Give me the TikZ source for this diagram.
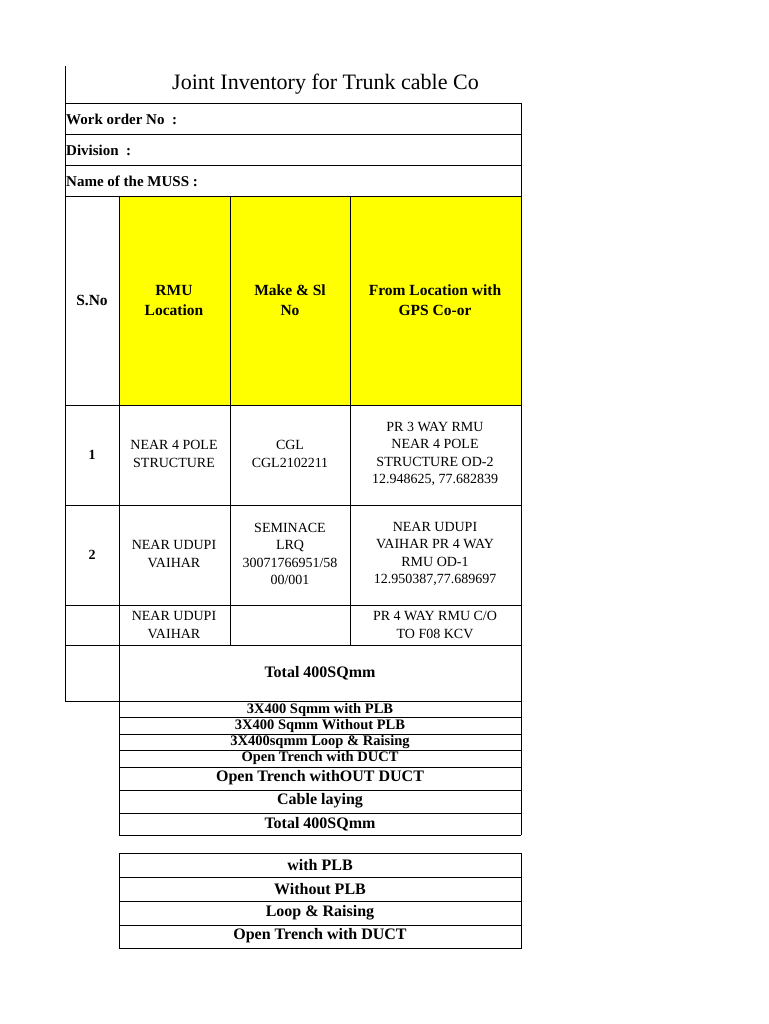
\documentclass[tikz,border=0pt]{standalone}
\usepackage{fontspec}
\setmainfont{Liberation Serif}
\definecolor{yel}{RGB}{255,255,0}
\begin{document}
\begin{tikzpicture}[x=1pt,y=-1pt,
  ln/.style={draw=black,line width=0.8pt},
  cell/.style={align=center,font=\fontsize{14}{17.5}\selectfont,inner sep=0pt},
  hd/.style={align=center,font=\bfseries\fontsize{15.5}{20}\selectfont,inner sep=0pt},
  lb/.style={anchor=west,font=\bfseries\fontsize{15}{18}\selectfont,inner sep=0pt},
  sm/.style={font=\bfseries\fontsize{14.5}{16}\selectfont,inner sep=0pt},
  bg/.style={font=\bfseries\fontsize{16}{18}\selectfont,inner sep=0pt}]
\useasboundingbox[fill=white] (0,0) rectangle (768,1024);
\fill[yel] (119,196) rectangle (521,405);
% grid
\draw[ln] (65,66) -- (65,701);
\foreach \y in {103,134,165,196,405,505,605,645,701} \draw[ln] (65,\y) -- (521,\y);
\draw[ln] (521,103) -- (521,835);
\draw[ln] (119,196) -- (119,835);
\foreach \x in {230,350} \draw[ln] (\x,196) -- (\x,645);
\foreach \y in {717,734,750,767,790,813,835} \draw[ln] (119,\y) -- (521,\y);
\draw[ln] (119,853) rectangle (521,948);
\foreach \y in {877,901,925} \draw[ln] (119,\y) -- (521,\y);
% texts
\node[anchor=west,font=\fontsize{22}{26}\selectfont,inner sep=0pt] (t) at (172,84) {Joint Inventory for Trunk cable Co};
\node[lb] (w) at (66,119) {Work order No~~:};
\node[lb] (d) at (66,150) {Division~~:};
\node[lb] (m) at (66,181) {Name of the MUSS :};
\node[hd] (h1) at (92,300) {S.No};
\node[hd] (h2) at (174,300) {RMU\\Location};
\node[hd] (h3) at (290,300) {Make \& Sl\\No};
\node[hd] (h4) at (435,300) {From Location with\\GPS Co-or};
\node[cell,font=\bfseries\fontsize{14}{17}\selectfont] (r1) at (92,455) {1};
\node[cell] (r1b) at (174,454) {NEAR 4 POLE\\STRUCTURE};
\node[cell] (r1c) at (290,454) {CGL\\CGL2102211};
\node[cell] (r1d) at (435,454) {PR 3 WAY RMU\\NEAR 4 POLE\\STRUCTURE OD-2\\12.948625, 77.682839};
\node[cell,font=\bfseries\fontsize{14}{17}\selectfont] (r2) at (92,555) {2};
\node[cell] (r2b) at (174,554) {NEAR UDUPI\\VAIHAR};
\node[cell] (r2c) at (290,554) {SEMINACE\\LRQ\\30071766951/58\\00/001};
\node[cell] (r2d) at (435,554) {NEAR UDUPI\\VAIHAR PR 4 WAY\\RMU OD-1\\12.950387,77.689697};
\node[cell] (r3b) at (174,625) {NEAR UDUPI\\VAIHAR};
\node[cell] (r3d) at (435,625) {PR 4 WAY RMU C/O\\TO F08 KCV};
\node[bg] (tot) at (320,673) {Total 400SQmm};
\node[sm] (s1) at (320,710) {3X400 Sqmm with PLB};
\node[sm] (s2) at (320,726) {3X400 Sqmm Without PLB};
\node[sm] (s3) at (320,742) {3X400sqmm Loop \& Raising};
\node[sm] (s4) at (320,758) {Open Trench with DUCT};
\node[bg] (s5) at (320,778) {Open Trench withOUT DUCT};
\node[bg] (s6) at (320,801) {Cable laying};
\node[bg] (s7) at (320,824) {Total 400SQmm};
\node[bg] (b1) at (320,865) {with PLB};
\node[bg] (b2) at (320,889) {Without PLB};
\node[bg] (b3) at (320,913) {Loop \& Raising};
\node[bg] (b4) at (320,936) {Open Trench with DUCT};
\end{tikzpicture}
\end{document}
